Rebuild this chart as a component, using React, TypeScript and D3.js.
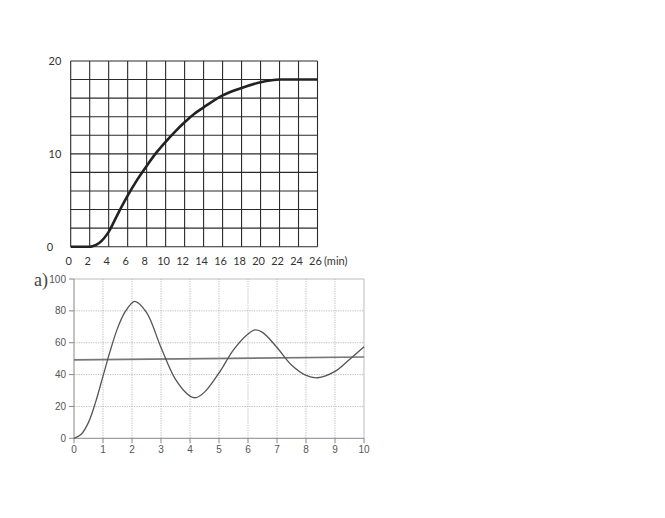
import * as d3 from 'd3';

// top chart: response vs time (min)
const topTime = [0, 2, 2.3, 3, 4, 5, 6, 7, 8, 9, 10, 11, 12, 13, 14, 16, 18, 20, 22, 24, 26];
const topValue = [0, 0, 0.05, 0.4, 1.6, 3.6, 5.5, 7.2, 8.7, 10.1, 11.3, 12.4, 13.4, 14.3, 15.0, 16.3, 17.1, 17.7, 18, 18, 18];
const topXTicks = [0, 2, 4, 6, 8, 10, 12, 14, 16, 18, 20, 22, 24, 26];
const topYLabels = [0, 10, 20];

// bottom chart a): damped oscillation
const botX = [0, 0.25, 0.5, 0.75, 1, 1.25, 1.5, 1.75, 2, 2.1, 2.5, 3, 3.5, 4, 4.2, 4.5, 5, 5.5, 6, 6.25, 6.5, 7, 7.5, 8, 8.4, 9, 9.5, 10];
const botY = [0, 2.5, 10, 23, 39, 55, 69, 79, 85, 86, 79, 57, 37, 26.5, 25.5, 29, 41, 55.5, 65.5, 68, 66.5, 57, 46, 39.5, 38, 42, 49.5, 57.5];
const setpointX = [0, 10];
const setpointY = [49.2, 51];
const botXTicks = [0, 1, 2, 3, 4, 5, 6, 7, 8, 9, 10];
const botYTicks = [0, 20, 40, 60, 80, 100];

export default function App() {
  // top chart scales
  const tx = d3.scaleLinear([0, 26], [70.7, 317.5]);
  const ty = d3.scaleLinear([0, 20], [246.7, 61]);
  const topLine = d3
    .line<number>((_, i) => tx(topTime[i]), (d) => ty(d))
    .curve(d3.curveMonotoneX);

  // bottom chart scales
  const bx = d3.scaleLinear([0, 10], [74, 364]);
  const by = d3.scaleLinear([0, 100], [438.3, 279]);
  const botLine = d3
    .line<number>((_, i) => bx(botX[i]), (d) => by(d))
    .curve(d3.curveCatmullRom.alpha(0.5));
  const spLine = d3.line<number>((_, i) => bx(setpointX[i]), (d) => by(d));

  const topGridY = d3.range(0, 21, 2);

  return (
    <svg
      width={665}
      height={518}
      style={{ position: 'absolute', left: 0, top: 0, background: '#fff' }}
    >
      {/* ---- top chart ---- */}
      <g stroke="#2a2a2a" strokeWidth={1.1}>
        {topXTicks.map((t) => (
          <line key={'tv' + t} x1={tx(t)} x2={tx(t)} y1={ty(0)} y2={ty(20)} />
        ))}
        {topGridY.map((t) => (
          <line key={'th' + t} x1={tx(0)} x2={tx(26)} y1={ty(t)} y2={ty(t)} />
        ))}
      </g>
      <path
        d={topLine(topValue) ?? ''}
        fill="none"
        stroke="#222"
        strokeWidth={2.6}
        strokeLinejoin="round"
      />
      <g fontFamily="Lato, 'Open Sans', sans-serif" fontSize={11} fill="#333">
        {topYLabels.map((t) => (
          <text key={'tyl' + t} x={t === 0 ? 50 : 55} y={ty(t) + 4} textAnchor="middle">
            {t}
          </text>
        ))}
        {topXTicks.map((t) => (
          <text key={'txl' + t} x={tx(t) - 2} y={265} textAnchor="middle">
            {t}
          </text>
        ))}
        <text x={324} y={265}>
          (min)
        </text>
      </g>

      {/* ---- bottom chart a) ---- */}
      <g stroke="#aaa" strokeWidth={0.8} strokeDasharray="1.2,1.2">
        {botXTicks.slice(1, -1).map((t) => (
          <line key={'bv' + t} x1={bx(t)} x2={bx(t)} y1={by(0)} y2={by(100)} />
        ))}
        {botYTicks.slice(1, -1).map((t) => (
          <line key={'bh' + t} x1={bx(0)} x2={bx(10)} y1={by(t)} y2={by(t)} />
        ))}
      </g>
      {/* frame: top and right light, left and bottom axes */}
      <line x1={bx(0)} x2={bx(10)} y1={by(100)} y2={by(100)} stroke="#bbb" strokeWidth={1} />
      <line x1={bx(10)} x2={bx(10)} y1={by(0)} y2={by(100)} stroke="#bbb" strokeWidth={1} />
      <g stroke="#888" strokeWidth={1}>
        <line x1={bx(0)} x2={bx(0)} y1={by(0)} y2={by(100)} />
        <line x1={bx(0)} x2={bx(10)} y1={by(0)} y2={by(0)} />
        {botYTicks.map((t) => (
          <line key={'byt' + t} x1={bx(0) - 5} x2={bx(0)} y1={by(t)} y2={by(t)} />
        ))}
        {botXTicks.map((t) => (
          <line key={'bxt' + t} x1={bx(t)} x2={bx(t)} y1={by(0)} y2={by(0) + 5} />
        ))}
      </g>
      <path
        d={spLine(setpointY) ?? ''}
        fill="none"
        stroke="#777"
        strokeWidth={1.6}
      />
      <path
        d={botLine(botY) ?? ''}
        fill="none"
        stroke="#555"
        strokeWidth={1.3}
      />
      <g fontFamily="'Liberation Sans', Arial, sans-serif" fontSize={10} fill="#555">
        {botYTicks.map((t) => (
          <text key={'byl' + t} x={bx(0) - 8} y={by(t) + 3.5} textAnchor="end">
            {t}
          </text>
        ))}
        {botXTicks.map((t) => (
          <text key={'bxl' + t} x={bx(t)} y={453} textAnchor="middle">
            {t}
          </text>
        ))}
      </g>
      <text
        x={34}
        y={286}
        fontFamily="'Liberation Serif', 'DejaVu Serif', serif"
        fontSize={18}
        fill="#444"
      >
        a)
      </text>
    </svg>
  );
}
